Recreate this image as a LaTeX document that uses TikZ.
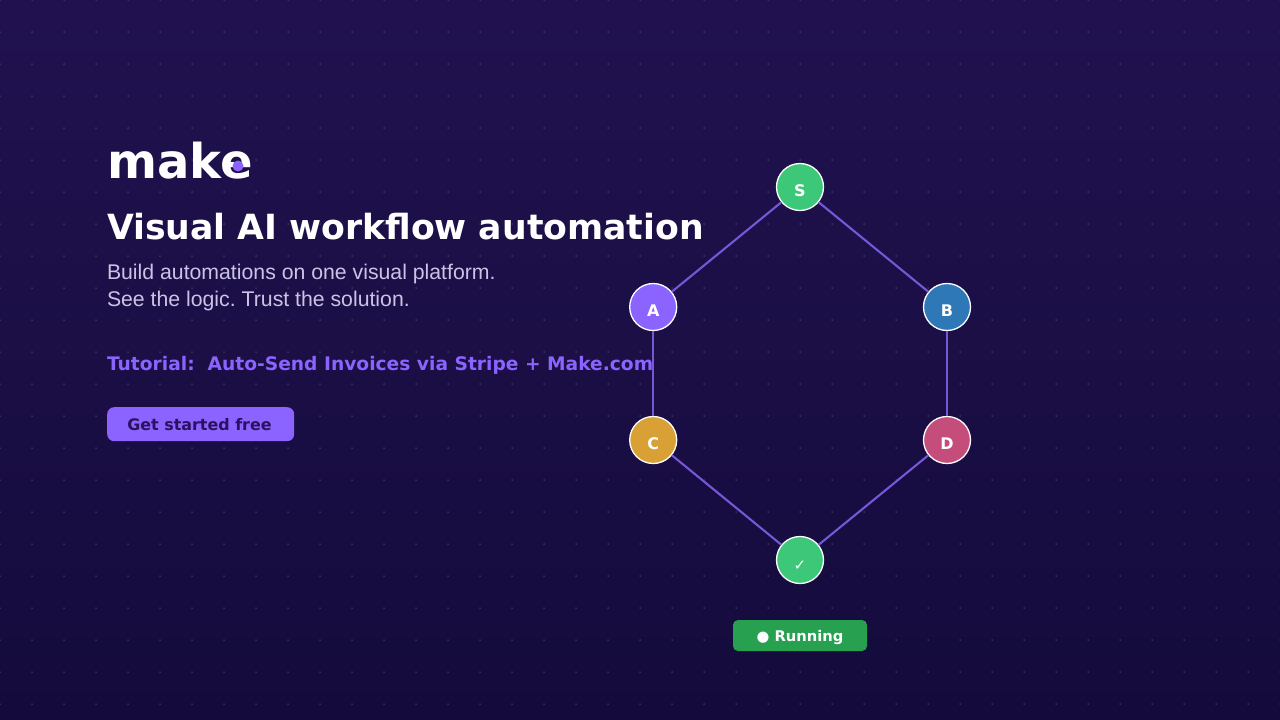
\documentclass[tikz,border=0pt]{standalone}
\usepackage{fontspec}
\setmainfont{DejaVu Sans}
\newfontfamily\bodyfont{Liberation Sans}
\definecolor{bgtop}{HTML}{21124F}
\definecolor{bgbot}{HTML}{140B3C}
\definecolor{violet}{HTML}{8B63FF}
\definecolor{edgecol}{HTML}{7557D8}
\definecolor{subtext}{HTML}{C9C3E6}
\definecolor{gogreen}{HTML}{3CC878}
\definecolor{bluen}{HTML}{2E78B8}
\definecolor{ambern}{HTML}{D8A035}
\definecolor{rosen}{HTML}{C44D7C}
\definecolor{runbg}{HTML}{27A050}
\definecolor{btntext}{HTML}{2A1260}
\newcommand{\nodelabel}[1]{\raisebox{-9.6pt}[0pt][0pt]{#1}}
\tikzset{
  x=1pt,y=-1pt,
  flow/.style={circle,draw=white,line width=1.3pt,minimum size=47pt,inner sep=0pt,text=white,font=\fontsize{16}{16}\selectfont\bfseries},
  link/.style={draw=edgecol,line width=2.1pt},
  txt/.style={anchor=base west,inner sep=0pt,outer sep=0pt},
}
\frenchspacing
\begin{document}
\begin{tikzpicture}
\useasboundingbox (0,0) rectangle (1280,720);
\shade[top color=bgtop,bottom color=bgbot] (0,0) rectangle (1280,720);
\foreach \i in {0,...,40}{\foreach \j in {0,...,22}{
  \fill[white,opacity=.25] (32*\i,32*\j) circle[radius=.75];
}}
\node[flow,fill=gogreen] (S) at (800,187) {\nodelabel{S}};
\node[flow,fill=violet] (A) at (653.2,307) {\nodelabel{A}};
\node[flow,fill=bluen] (B) at (947,307) {\nodelabel{B}};
\node[flow,fill=ambern] (C) at (653.2,440) {\nodelabel{C}};
\node[flow,fill=rosen] (D) at (947,440) {\nodelabel{D}};
\node[flow,fill=gogreen] (E) at (800,560) {\raisebox{-10.6pt}[0pt][0pt]{\fontsize{15}{15}\selectfont\mdseries ✓}};
\draw[link] (S) -- (A);
\draw[link] (S) -- (B);
\draw[link] (A) -- (C);
\draw[link] (B) -- (D);
\draw[link] (C) -- (E);
\draw[link] (D) -- (E);
\node[txt,text=white,font=\fontsize{48}{48}\selectfont\bfseries] (logo) at (107,178.5) {make};
\fill[violet] (238,166) circle[radius=5.5];
\node[txt,text=white,font=\fontsize{34.65}{34.65}\selectfont\bfseries] (title) at (107,239) {Visual AI workflow automation};
\node[txt,text=subtext,font=\fontsize{21.25}{21.25}\selectfont\bodyfont] (l1) at (107,279) {Build automations on one visual platform.};
\node[txt,text=subtext,font=\fontsize{21.25}{21.25}\selectfont\bodyfont] (l2) at (107,306) {See the logic. Trust the solution.};
\node[txt,text=violet,font=\fontsize{18.65}{18.65}\selectfont\bfseries] (tut) at (107,370.5) {Tutorial:\ \ Auto-Send Invoices via Stripe + Make.com};
\node[fill=violet,rounded corners=7pt,minimum width=187pt,minimum height=34pt,inner sep=0pt,anchor=north west] (btn) at (107,407) {};
\node[text=btntext,font=\fontsize{15.9}{15.9}\selectfont\bfseries,inner sep=0pt] (btnt) at (199.5,425) {Get started free};
\node[fill=runbg,rounded corners=5pt,minimum width=134pt,minimum height=31pt,inner sep=0pt] (run) at (800,635.5) {};
\node[text=white,font=\fontsize{14.7}{14.7}\selectfont\bfseries,inner sep=0pt] (runt) at (800,637.5) {● Running};
\end{tikzpicture}
\end{document}
